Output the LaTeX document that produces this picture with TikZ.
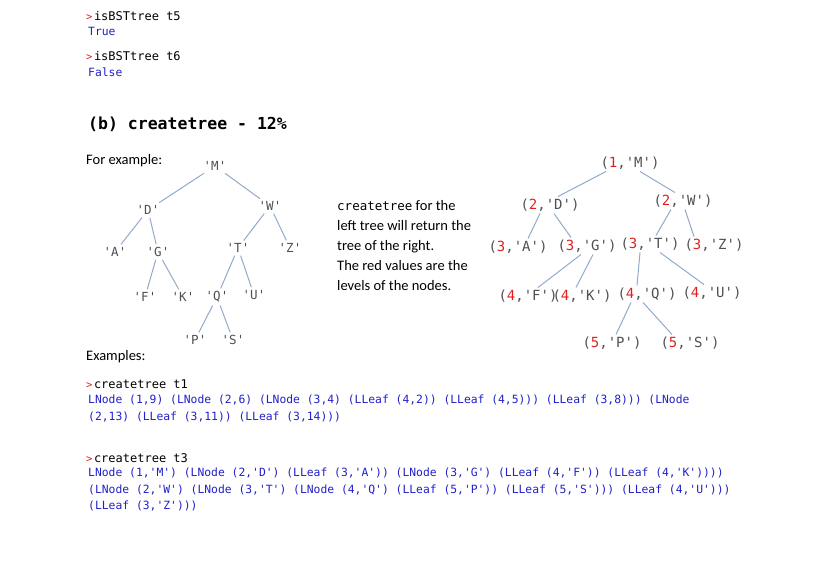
\documentclass[tikz,border=0pt]{standalone}
\usepackage{fontspec}
\setmainfont{Carlito}
\setmonofont{DejaVu Sans Mono}
\definecolor{outblue}{HTML}{2020C8}
\definecolor{prm}{HTML}{E02020}
\definecolor{edgec}{HTML}{92AACA}
\definecolor{lbl}{HTML}{505050}
\definecolor{lvl}{HTML}{E02020}
\begin{document}
\begin{tikzpicture}[x=1pt,y=-1pt,
  cmd/.style={anchor=west,inner sep=0pt,font=\ttfamily\fontsize{12}{14}\selectfont},
  outp/.style={anchor=west,inner sep=0pt,text=outblue,font=\ttfamily\fontsize{11.35}{16.5}\selectfont,align=left},
  txt/.style={anchor=west,inner sep=0pt,font=\fontsize{14.5}{20}\selectfont,align=left},
  lt/.style={inner sep=2pt,text=lbl,font=\ttfamily\fontsize{12.5}{14}\selectfont},
  rt/.style={inner sep=2pt,text=lbl,font=\ttfamily\fontsize{14}{16}\selectfont},
  ed/.style={draw=edgec,line width=1pt}]
\useasboundingbox (0,0) rectangle (832,572);
\newcommand{\pr}{\textcolor{prm}{\fontsize{10.5}{10}\selectfont>}\hspace{1.5pt}}
\newcommand{\lv}[2]{(\textcolor{lvl}{#1},'#2')}
\node[cmd] (c1) at (86,16) {\pr isBSTtree t5};
\node[outp] (o1) at (88,31) {True};
\node[cmd] (c2) at (86,56) {\pr isBSTtree t6};
\node[outp] (o2) at (88,72) {False};
\node[anchor=west,inner sep=0pt,font=\ttfamily\bfseries\fontsize{16.5}{18}\selectfont] (hd) at (88,124) {(b) createtree - 12\%};
\node[txt] (fe) at (86,161) {For example:};
% left tree
\node[lt] (M) at (215,166) {'M'};
\node[lt] (D) at (148,210) {'D'};
\node[lt] (W) at (270,206) {'W'};
\node[lt] (A) at (115,252) {'A'};
\node[lt] (G) at (158,252) {'G'};
\node[lt] (T) at (238,248) {'T'};
\node[lt] (Z) at (290,248) {'Z'};
\node[lt] (F) at (145,297) {'F'};
\node[lt] (K) at (183,297) {'K'};
\node[lt] (Q) at (217,297) {'Q'};
\node[lt] (U) at (254,295) {'U'};
\node[lt] (P) at (195,340) {'P'};
\node[lt] (S) at (233,340) {'S'};
\foreach \a/\b in {M/D,M/W,D/A,D/G,W/T,W/Z,G/F,G/K,T/Q,T/U,Q/P,Q/S}
  \draw[ed,shorten <=1pt,shorten >=1pt] (\a) -- (\b);
% middle text
\node[txt] (mt) at (337,246) {{\ttfamily\fontsize{12.5}{14}\selectfont createtree} for the\\left tree will return the\\tree of the right.\\The red values are the\\levels of the nodes.};
% right tree
\node[rt] (rM) at (630,163) {\lv{1}{M}};
\node[rt] (rD) at (550,205) {\lv{2}{D}};
\node[rt] (rW) at (683,201) {\lv{2}{W}};
\node[rt] (rA) at (518,247) {\lv{3}{A}};
\node[rt] (rG) at (587,246) {\lv{3}{G}};
\node[rt] (rT) at (650,244) {\lv{3}{T}};
\node[rt] (rZ) at (714,245) {\lv{3}{Z}};
\node[rt] (rF) at (528,296) {\lv{4}{F}};
\node[rt] (rK) at (582,296) {\lv{4}{K}};
\node[rt] (rQ) at (647,294) {\lv{4}{Q}};
\node[rt] (rU) at (712,293) {\lv{4}{U}};
\node[rt] (rP) at (612,343) {\lv{5}{P}};
\node[rt] (rS) at (690,343) {\lv{5}{S}};
\begin{scope}[ed]
\draw ([xshift=-24pt]rM.south) -- ([xshift=8pt]rD.north);
\draw ([xshift=10pt]rM.south) -- ([xshift=-8pt]rW.north);
\draw ([xshift=-10pt]rD.south) -- ([xshift=10pt]rA.north);
\draw ([xshift=4pt]rD.south) -- ([xshift=-16pt]rG.north);
\draw ([xshift=-12pt]rW.south) -- ([xshift=6pt]rT.north);
\draw ([xshift=2pt]rW.south) -- ([xshift=-20pt]rZ.north);
\draw ([xshift=-6pt]rG.south) -- ([xshift=10pt]rF.north);
\draw ([xshift=6pt]rG.south) -- ([xshift=-6pt]rK.north);
\draw ([xshift=-10pt]rT.south) -- ([xshift=-10pt]rQ.north);
\draw ([xshift=10pt]rT.south) -- ([xshift=-8pt]rU.north);
\draw ([xshift=-16pt]rQ.south) -- ([xshift=4pt]rP.north);
\draw ([xshift=-4pt]rQ.south) -- ([xshift=-18pt]rS.north);
\end{scope}
\node[txt] (ex) at (86,357) {Examples:};
\node[cmd] (c3) at (86,384) {\pr createtree t1};
\node[outp,anchor=north west] (o3) at (88,395) {LNode (1,9) (LNode (2,6) (LNode (3,4) (LLeaf (4,2)) (LLeaf (4,5))) (LLeaf (3,8))) (LNode\\(2,13) (LLeaf (3,11)) (LLeaf (3,14)))};
\node[cmd] (c4) at (86,458) {\pr createtree t3};
\node[outp,anchor=north west] (o4) at (88,468) {LNode (1,'M') (LNode (2,'D') (LLeaf (3,'A')) (LNode (3,'G') (LLeaf (4,'F')) (LLeaf (4,'K'))))\\(LNode (2,'W') (LNode (3,'T') (LNode (4,'Q') (LLeaf (5,'P')) (LLeaf (5,'S'))) (LLeaf (4,'U')))\\(LLeaf (3,'Z')))};
\end{tikzpicture}
\end{document}
